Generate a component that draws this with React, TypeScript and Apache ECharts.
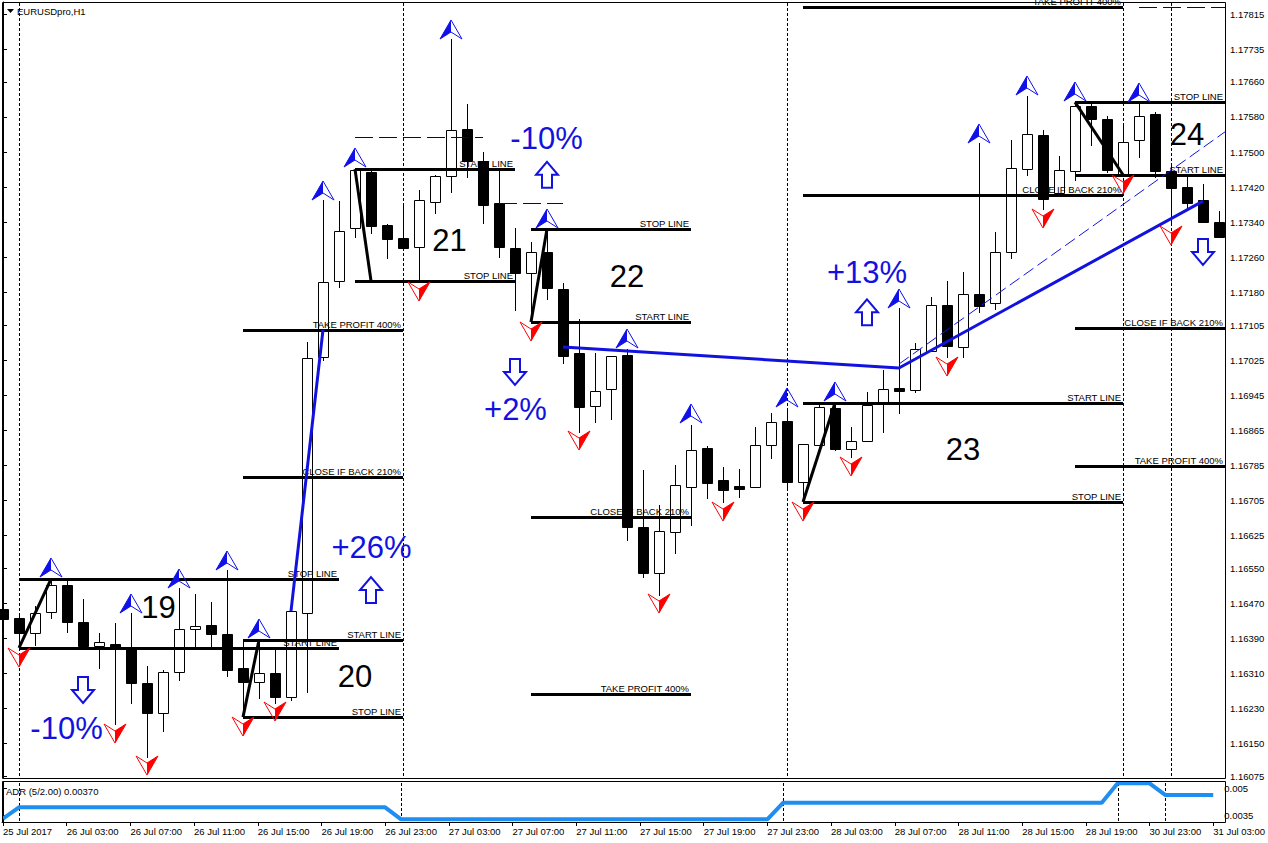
import React, { useEffect, useRef } from "react";
import * as echarts from "echarts";

// ---------- data ----------
const tickBars = [0, 4, 8, 12, 16, 20, 24, 28, 32, 36, 40, 44, 48, 52, 56, 60, 64, 68, 72, 76];
const timeLabels = [
  "25 Jul 2017", "26 Jul 03:00", "26 Jul 07:00", "26 Jul 11:00", "26 Jul 15:00",
  "26 Jul 19:00", "26 Jul 23:00", "27 Jul 03:00", "27 Jul 07:00", "27 Jul 11:00",
  "27 Jul 15:00", "27 Jul 19:00", "27 Jul 23:00", "28 Jul 03:00", "28 Jul 07:00",
  "28 Jul 11:00", "28 Jul 15:00", "28 Jul 19:00", "30 Jul 23:00", "31 Jul 03:00",
];
const priceTicks = [
  1.17815, 1.17735, 1.1766, 1.1758, 1.175, 1.1742, 1.1734, 1.1726, 1.1718, 1.17105,
  1.17025, 1.16945, 1.16865, 1.16785, 1.16705, 1.16625, 1.1655, 1.1647, 1.1639,
  1.1631, 1.1623, 1.1615, 1.16075,
];
const adrTicks = [0.0035, 0.005];
const adrTickLabels = ["0.0035", "0.005"];
const separatorBars = [1, 25, 49, 70, 73];

// open, close, low, high
const candles = [
  [1.16457, 1.16434, 1.1643, 1.16462],
  [1.16436, 1.16402, 1.16368, 1.16443],
  [1.16402, 1.16448, 1.16375, 1.16464],
  [1.1645, 1.16512, 1.16436, 1.16523],
  [1.16512, 1.16427, 1.16404, 1.16523],
  [1.16427, 1.16372, 1.1637, 1.1648],
  [1.16372, 1.16382, 1.16322, 1.16402],
  [1.16377, 1.1637, 1.16194, 1.16425],
  [1.16368, 1.16288, 1.16242, 1.16448],
  [1.16288, 1.1622, 1.16119, 1.16327],
  [1.1622, 1.16313, 1.16178, 1.16318],
  [1.16313, 1.16411, 1.16295, 1.16505],
  [1.16411, 1.16418, 1.16368, 1.16491],
  [1.1642, 1.164, 1.16368, 1.16473],
  [1.164, 1.16318, 1.16304, 1.16546],
  [1.16322, 1.1629, 1.1621, 1.16386],
  [1.1629, 1.16311, 1.16254, 1.16386],
  [1.16311, 1.16256, 1.16242, 1.16366],
  [1.16256, 1.16452, 1.16249, 1.16466],
  [1.16448, 1.1703, 1.16267, 1.17066],
  [1.17032, 1.17203, 1.17025, 1.17391],
  [1.17206, 1.1732, 1.17192, 1.17388],
  [1.17327, 1.17459, 1.17306, 1.17461],
  [1.17454, 1.17331, 1.17315, 1.17459],
  [1.17333, 1.17301, 1.17258, 1.17336],
  [1.17304, 1.17281, 1.17276, 1.17377],
  [1.17283, 1.17391, 1.17203, 1.17413],
  [1.17386, 1.17445, 1.17361, 1.17448],
  [1.17445, 1.1755, 1.17409, 1.17758],
  [1.17553, 1.1748, 1.17443, 1.1761],
  [1.1748, 1.17379, 1.17338, 1.175],
  [1.17384, 1.17283, 1.1726, 1.17459],
  [1.17281, 1.17224, 1.17139, 1.17327],
  [1.17224, 1.17272, 1.17112, 1.17295],
  [1.17272, 1.1719, 1.17165, 1.17324],
  [1.17187, 1.17034, 1.17018, 1.17201],
  [1.17041, 1.16918, 1.16861, 1.17119],
  [1.1692, 1.16955, 1.16884, 1.17041],
  [1.16959, 1.17034, 1.16891, 1.17034],
  [1.17037, 1.16644, 1.16614, 1.1705],
  [1.16644, 1.16539, 1.1653, 1.16774],
  [1.16539, 1.16635, 1.16489, 1.16694],
  [1.16633, 1.1674, 1.16585, 1.16786],
  [1.16735, 1.1682, 1.16649, 1.16877],
  [1.16824, 1.16745, 1.1671, 1.16829],
  [1.16751, 1.16729, 1.16701, 1.16781],
  [1.16738, 1.16731, 1.16713, 1.16776],
  [1.16735, 1.16831, 1.16735, 1.16872],
  [1.16831, 1.16884, 1.16802, 1.16904],
  [1.16886, 1.16747, 1.16729, 1.16916],
  [1.16747, 1.16834, 1.16701, 1.16834],
  [1.16831, 1.16918, 1.16831, 1.16923],
  [1.16916, 1.16822, 1.1682, 1.16927],
  [1.16822, 1.1684, 1.16804, 1.16872],
  [1.1684, 1.16923, 1.1684, 1.16952],
  [1.16925, 1.16959, 1.16861, 1.17002],
  [1.16961, 1.16955, 1.16904, 1.17144],
  [1.16957, 1.1705, 1.16952, 1.17064],
  [1.17046, 1.17151, 1.17046, 1.17169],
  [1.17151, 1.17057, 1.17032, 1.17206],
  [1.17055, 1.17176, 1.17032, 1.17226],
  [1.17176, 1.17149, 1.17135, 1.17521],
  [1.17155, 1.17272, 1.17142, 1.17317],
  [1.17272, 1.17464, 1.17258, 1.17527],
  [1.17461, 1.17541, 1.17448, 1.17628],
  [1.17539, 1.17393, 1.1737, 1.1755],
  [1.17407, 1.17459, 1.174, 1.17491],
  [1.17457, 1.17605, 1.17436, 1.17612],
  [1.17605, 1.17575, 1.17516, 1.17614],
  [1.17575, 1.17459, 1.17454, 1.17582],
  [1.17448, 1.17523, 1.17448, 1.17566],
  [1.17527, 1.17582, 1.17489, 1.1761],
  [1.17587, 1.17457, 1.17443, 1.17591],
  [1.17457, 1.17418, 1.17333, 1.1747],
  [1.1742, 1.17384, 1.17372, 1.17445],
  [1.17391, 1.1734, 1.1734, 1.17427],
  [1.1734, 1.17306, 1.17306, 1.17365],
];

const adrValues = [
  0.0033,
  0.00393, 0.00393, 0.00393, 0.00393, 0.00393, 0.00393, 0.00393, 0.00393,
  0.00393, 0.00393, 0.00393, 0.00393, 0.00393, 0.00393, 0.00393, 0.00393,
  0.00393, 0.00393, 0.00393, 0.00393, 0.00393, 0.00393, 0.00393, 0.00393,
  0.00326, 0.00326, 0.00326, 0.00326, 0.00326, 0.00326, 0.00326, 0.00326,
  0.00326, 0.00326, 0.00326, 0.00326, 0.00326, 0.00326, 0.00326, 0.00326,
  0.00326, 0.00326, 0.00326, 0.00326, 0.00326, 0.00326, 0.00326, 0.00326,
  0.00419, 0.00419, 0.00419, 0.00419, 0.00419, 0.00419, 0.00419, 0.00419,
  0.00419, 0.00419, 0.00419, 0.00419, 0.00419, 0.00419, 0.00419, 0.00419,
  0.00419, 0.00419, 0.00419, 0.00419, 0.00419,
  0.00528, 0.00528, 0.00528,
  0.00462, 0.00462, 0.00462, 0.00462,
];

// level lines: start bar, end bar, price
const levelRows = [
  [1, 21, 1.16525], [1, 21, 1.16368],
  [15, 25, 1.16386], [15, 25, 1.1621], [15, 25, 1.17094], [15, 25, 1.16758],
  [22, 32, 1.17461], [22, 32, 1.17206],
  [33, 43, 1.17324], [33, 43, 1.17112], [33, 43, 1.16667], [33, 43, 1.16263],
  [50, 70, 1.16927], [50, 70, 1.16701], [50, 70, 1.17402], [50, 70, 1.17831],
  [67, 76.375, 1.17614], [67, 76.375, 1.17448], [67, 76.375, 1.17099], [67, 76.375, 1.16783],
];
const levelLabels = [
  "STOP LINE", "START LINE",
  "START LINE", "STOP LINE", "TAKE PROFIT 400%", "CLOSE IF BACK 210%",
  "START LINE", "STOP LINE",
  "STOP LINE", "START LINE", "CLOSE IF BACK 210%", "TAKE PROFIT 400%",
  "START LINE", "STOP LINE", "CLOSE IF BACK 210%", "TAKE PROFIT 400%",
  "STOP LINE", "START LINE", "CLOSE IF BACK 210%", "TAKE PROFIT 400%",
];

// trend lines: bar1, price1, bar2, price2
const trendRows = [
  [1, 1.16368, 3, 1.16525],
  [15, 1.1621, 16, 1.16386],
  [22, 1.17461, 23, 1.17206],
  [33, 1.17112, 34, 1.17324],
  [50, 1.16701, 52, 1.16927],
  [67, 1.17614, 70, 1.17448],
];

// dashed navy levels: start bar, end bar, price
const dashedRows = [
  [22, 30, 1.17535],
  [31, 35, 1.17384],
  [71, 76.375, 1.17831],
];

const blueLineA = [[18, 1.16452], [20, 1.17094]];
const blueLineB = [[35, 1.17055], [56, 1.17007], [75, 1.17388]];
const blueDashed = [[56, 1.17016], [76.375, 1.17546]];

const upArrowRows = [
  [3, 1.1653], [8, 1.16448], [11, 1.16505], [14, 1.16546], [16, 1.16391],
  [20, 1.17391], [22, 1.17466], [28, 1.17758], [34, 1.17327], [39, 1.17053],
  [43, 1.16881], [49, 1.16918], [52, 1.16932], [56, 1.17144], [61, 1.17521],
  [64, 1.1763], [67, 1.17617], [71, 1.17614],
];
const downArrowRows = [
  [1, 1.16368], [7, 1.16194], [9, 1.16121], [15, 1.1621], [17, 1.16245],
  [26, 1.17203], [33, 1.17112], [36, 1.16863], [41, 1.16491], [45, 1.16701],
  [50, 1.16701], [53, 1.16804], [59, 1.17032], [65, 1.1737], [70, 1.17448],
  [73, 1.17331],
];

const setupNumberBars = [9.72, 22.0, 27.9, 39.0, 60.0, 74.0];
const setupNumberPrices = [1.1646, 1.16302, 1.17299, 1.17215, 1.1682, 1.17539];
const setupNumberTexts = ["19", "20", "21", "22", "23", "24"];

const percentBars = [3.97, 23.03, 33.97, 32.03, 54.0];
const percentPrices = [1.16183, 1.16597, 1.17531, 1.16913, 1.17226];
const percentTexts = ["-10%", "+26%", "-10%", "+2%", "+13%"];

const hollowArrowBars = [5, 23, 34, 32, 54, 75];
const hollowArrowPrices = [1.16272, 1.165, 1.17448, 1.16998, 1.17134, 1.17272];
const hollowArrowDirs = [-1, 1, 1, -1, 1, -1];

// ---------- layout constants ----------
const X_MIN = -0.0625;
const X_MAX = 76.375;
const P_MIN = 1.160711;
const P_MAX = 1.178424;
const ADR_MIN = 0.003107;
const ADR_MAX = 0.005354;
const BLUE = "#1212e0";
const FONT = "Liberation Sans";

const snap = (v: number) => Math.round(v) + 0.5;

function buildOption() {
  const sepRender = (params: any, api: any) => {
    const p = api.coord([api.value(0), api.value(1)]);
    const cs = params.coordSys;
    const x = snap(p[0]);
    return {
      type: "line",
      shape: { x1: x, y1: cs.y + 1, x2: x, y2: cs.y + cs.height },
      style: { stroke: "#000", lineWidth: 1, lineDash: [3, 2] },
    };
  };

  return {
    animation: false,
    backgroundColor: "#fff",
    textStyle: { fontFamily: FONT },
    grid: [
      { left: 2, top: 2, width: 1223, height: 776 },
      { left: 2, top: 782, width: 1223, height: 40 },
    ],
    xAxis: [
      { type: "value", gridIndex: 0, min: X_MIN, max: X_MAX, show: false },
      {
        type: "value",
        gridIndex: 1,
        min: X_MIN,
        max: X_MAX,
        position: "bottom",
        axisLine: { show: true, onZero: false, lineStyle: { color: "#000", width: 1 } },
        axisTick: { show: true, customValues: tickBars, length: 4, lineStyle: { color: "#000" } },
        axisLabel: {
          show: true,
          customValues: tickBars,
          formatter: (v: number) => timeLabels[tickBars.indexOf(Math.round(v))] || "",
          align: "left",
          margin: 4,
          fontSize: 9.5,
          fontFamily: FONT,
          color: "#000",
        },
        splitLine: { show: false },
      },
    ],
    yAxis: [
      {
        type: "value",
        gridIndex: 0,
        min: P_MIN,
        max: P_MAX,
        position: "right",
        axisLine: { show: true, lineStyle: { color: "#000", width: 1 } },
        axisTick: { show: true, customValues: priceTicks, length: 4, lineStyle: { color: "#000" } },
        axisLabel: {
          show: true,
          customValues: priceTicks,
          formatter: (v: number) => v.toFixed(5),
          margin: 5,
          fontSize: 9.5,
          fontFamily: FONT,
          color: "#000",
        },
        splitLine: { show: false },
      },
      {
        type: "value",
        gridIndex: 1,
        min: ADR_MIN,
        max: ADR_MAX,
        position: "right",
        axisLine: { show: true, lineStyle: { color: "#000", width: 1 } },
        axisTick: { show: true, customValues: adrTicks, length: 4, lineStyle: { color: "#000" } },
        axisLabel: {
          show: true,
          customValues: adrTicks,
          formatter: (v: number) => {
            const k = adrTicks.findIndex((t) => Math.abs(t - v) < 1e-7);
            return k >= 0 ? adrTickLabels[k] : "";
          },
          margin: 5,
          fontSize: 9.5,
          fontFamily: FONT,
          color: "#000",
        },
        splitLine: { show: false },
      },
    ],
    graphic: [
      {
        type: "rect",
        z: 50,
        silent: true,
        shape: { x: 2.5, y: 2.5, width: 1223, height: 776 },
        style: { fill: "none", stroke: "#000", lineWidth: 1 },
      },
      {
        type: "rect",
        z: 50,
        silent: true,
        shape: { x: 2.5, y: 781.5, width: 1223, height: 41 },
        style: { fill: "none", stroke: "#000", lineWidth: 1 },
      },
      {
        type: "polygon",
        z: 50,
        shape: { points: [[7, 9], [14, 9], [10.5, 13]] },
        style: { fill: "#000" },
      },
      {
        type: "text",
        z: 50,
        x: 17,
        y: 11,
        style: { text: "EURUSDpro,H1", fontSize: 9.5, fontFamily: FONT, fill: "#000", verticalAlign: "middle" },
      },
      {
        type: "text",
        z: 50,
        x: 6,
        y: 791,
        style: { text: "ADR (5/2.00) 0.00370", fontSize: 9.5, fontFamily: FONT, fill: "#000", verticalAlign: "middle" },
      },
    ],
    series: [
      {
        name: "separators",
        type: "custom",
        xAxisIndex: 0,
        yAxisIndex: 0,
        z: 1,
        silent: true,
        data: separatorBars.map((b) => [b, P_MIN]),
        encode: { x: 0, y: 1 },
        renderItem: sepRender,
      },
      {
        name: "separators-adr",
        type: "custom",
        xAxisIndex: 1,
        yAxisIndex: 1,
        z: 1,
        silent: true,
        data: separatorBars.map((b) => [b, ADR_MIN]),
        encode: { x: 0, y: 1 },
        renderItem: sepRender,
      },
      {
        name: "EURUSDpro,H1",
        type: "custom",
        xAxisIndex: 0,
        yAxisIndex: 0,
        z: 2,
        silent: true,
        data: candles.map((r, i) => [i, r[0], r[1], r[2], r[3]]),
        encode: { x: 0, y: [1, 2, 3, 4] },
        renderItem: (params: any, api: any) => {
          const i = api.value(0);
          const o = api.value(1);
          const c = api.value(2);
          const po = api.coord([i, o]);
          const pc = api.coord([i, c]);
          const pl = api.coord([i, api.value(3)]);
          const ph = api.coord([i, api.value(4)]);
          const cx = snap(po[0]);
          const yTop = snap(Math.min(po[1], pc[1]));
          const yBot = snap(Math.max(po[1], pc[1]));
          const bull = c > o;
          return {
            type: "group",
            children: [
              {
                type: "line",
                shape: { x1: cx, y1: Math.round(ph[1]), x2: cx, y2: Math.round(pl[1]) + 1 },
                style: { stroke: "#000", lineWidth: 1 },
              },
              {
                type: "rect",
                shape: { x: cx - 5, y: yTop, width: 10, height: Math.max(1, yBot - yTop) },
                style: { fill: bull ? "#fff" : "#000", stroke: "#000", lineWidth: 1 },
              },
            ],
          };
        },
      },
      {
        name: "levels",
        type: "custom",
        xAxisIndex: 0,
        yAxisIndex: 0,
        z: 3,
        silent: true,
        data: levelRows,
        encode: { x: [0, 1], y: 2 },
        renderItem: (params: any, api: any) => {
          const s = api.coord([api.value(0), api.value(2)]);
          const e = api.coord([api.value(1), api.value(2)]);
          const y = snap(s[1]);
          const x2 = Math.round(e[0]);
          return {
            type: "group",
            children: [
              {
                type: "line",
                shape: { x1: Math.round(s[0]), y1: y, x2: x2, y2: y },
                style: { stroke: "#000", lineWidth: 3 },
              },
              {
                type: "text",
                x: x2 - 2,
                y: y - 1,
                style: {
                  text: levelLabels[params.dataIndex],
                  fontSize: 9.5,
                  fontFamily: FONT,
                  fill: "#000",
                  align: "right",
                  verticalAlign: "bottom",
                },
              },
            ],
          };
        },
      },
      {
        name: "trend",
        type: "custom",
        xAxisIndex: 0,
        yAxisIndex: 0,
        z: 3,
        silent: true,
        data: trendRows,
        encode: { x: [0, 2], y: [1, 3] },
        renderItem: (params: any, api: any) => {
          const a = api.coord([api.value(0), api.value(1)]);
          const b = api.coord([api.value(2), api.value(3)]);
          return {
            type: "line",
            shape: { x1: a[0], y1: a[1], x2: b[0], y2: b[1] },
            style: { stroke: "#000", lineWidth: 3 },
          };
        },
      },
      {
        name: "dashed",
        type: "custom",
        xAxisIndex: 0,
        yAxisIndex: 0,
        z: 3,
        silent: true,
        data: dashedRows,
        encode: { x: [0, 1], y: 2 },
        renderItem: (params: any, api: any) => {
          const s = api.coord([api.value(0), api.value(2)]);
          const e = api.coord([api.value(1), api.value(2)]);
          const y = snap(s[1]);
          return {
            type: "line",
            shape: { x1: s[0], y1: y, x2: e[0], y2: y },
            style: { stroke: "#00008b", lineWidth: 1, lineDash: [18, 6] },
          };
        },
      },
      {
        name: "move A",
        type: "line",
        xAxisIndex: 0,
        yAxisIndex: 0,
        z: 4,
        silent: true,
        showSymbol: false,
        symbol: "none",
        data: blueLineA,
        lineStyle: { color: BLUE, width: 3 },
      },
      {
        name: "move B",
        type: "line",
        xAxisIndex: 0,
        yAxisIndex: 0,
        z: 4,
        silent: true,
        showSymbol: false,
        symbol: "none",
        data: blueLineB,
        lineStyle: { color: BLUE, width: 3 },
      },
      {
        name: "channel",
        type: "line",
        xAxisIndex: 0,
        yAxisIndex: 0,
        z: 4,
        silent: true,
        showSymbol: false,
        symbol: "none",
        data: blueDashed,
        lineStyle: { color: BLUE, width: 1, type: [12, 5] },
      },
      {
        name: "up fractals",
        type: "custom",
        xAxisIndex: 0,
        yAxisIndex: 0,
        z: 5,
        silent: true,
        data: upArrowRows,
        encode: { x: 0, y: 1 },
        renderItem: (params: any, api: any) => {
          const p = api.coord([api.value(0), api.value(1)]);
          const cx = Math.round(p[0]);
          const y = Math.round(p[1]);
          return {
            type: "group",
            children: [
              {
                type: "polygon",
                shape: { points: [[cx, y - 19], [cx - 11, y], [cx, y - 7]] },
                style: { fill: "#1010e8" },
              },
              {
                type: "polygon",
                shape: { points: [[cx, y - 19], [cx + 11, y], [cx, y - 7], [cx - 11, y]] },
                style: { fill: "none", stroke: "#1010e8", lineWidth: 1 },
              },
            ],
          };
        },
      },
      {
        name: "down fractals",
        type: "custom",
        xAxisIndex: 0,
        yAxisIndex: 0,
        z: 5,
        silent: true,
        data: downArrowRows,
        encode: { x: 0, y: 1 },
        renderItem: (params: any, api: any) => {
          const p = api.coord([api.value(0), api.value(1)]);
          const cx = Math.round(p[0]);
          const y = Math.round(p[1]);
          return {
            type: "group",
            children: [
              {
                type: "polygon",
                shape: { points: [[cx, y + 19], [cx + 11, y], [cx, y + 7]] },
                style: { fill: "#ff0000" },
              },
              {
                type: "polygon",
                shape: { points: [[cx, y + 19], [cx - 11, y], [cx, y + 7], [cx + 11, y]] },
                style: { fill: "none", stroke: "#ff0000", lineWidth: 1 },
              },
            ],
          };
        },
      },
      {
        name: "direction arrows",
        type: "custom",
        xAxisIndex: 0,
        yAxisIndex: 0,
        z: 5,
        silent: true,
        data: hollowArrowBars.map((b, i) => [b, hollowArrowPrices[i], hollowArrowDirs[i]]),
        encode: { x: 0, y: 1 },
        renderItem: (params: any, api: any) => {
          const p = api.coord([api.value(0), api.value(1)]);
          const d = api.value(2);
          const cx = p[0];
          const cy = p[1];
          const rel = [[0, -13], [11, 0], [5, 0], [5, 13], [-5, 13], [-5, 0], [-11, 0]];
          return {
            type: "polygon",
            shape: { points: rel.map((q) => [cx + q[0], cy + q[1] * d]) },
            style: { fill: "#fff", stroke: BLUE, lineWidth: 2 },
          };
        },
      },
      {
        name: "setup numbers",
        type: "custom",
        xAxisIndex: 0,
        yAxisIndex: 0,
        z: 6,
        silent: true,
        data: setupNumberBars.map((b, i) => [b, setupNumberPrices[i]]),
        encode: { x: 0, y: 1 },
        renderItem: (params: any, api: any) => {
          const p = api.coord([api.value(0), api.value(1)]);
          return {
            type: "text",
            x: p[0],
            y: p[1],
            style: {
              text: setupNumberTexts[params.dataIndex],
              fontSize: 31,
              fontFamily: FONT,
              fill: "#000",
              align: "center",
              verticalAlign: "middle",
            },
          };
        },
      },
      {
        name: "percent labels",
        type: "custom",
        xAxisIndex: 0,
        yAxisIndex: 0,
        z: 6,
        silent: true,
        data: percentBars.map((b, i) => [b, percentPrices[i]]),
        encode: { x: 0, y: 1 },
        renderItem: (params: any, api: any) => {
          const p = api.coord([api.value(0), api.value(1)]);
          return {
            type: "text",
            x: p[0],
            y: p[1],
            style: {
              text: percentTexts[params.dataIndex],
              fontSize: 31,
              fontFamily: FONT,
              fill: BLUE,
              align: "center",
              verticalAlign: "middle",
            },
          };
        },
      },
      {
        name: "ADR",
        type: "line",
        xAxisIndex: 1,
        yAxisIndex: 1,
        z: 3,
        silent: true,
        showSymbol: false,
        symbol: "none",
        data: adrValues.map((v, i) => [i, v]),
        lineStyle: { color: "#1e8ff0", width: 4 },
      },
    ],
  };
}

export default function App() {
  const ref = useRef<HTMLDivElement>(null);
  useEffect(() => {
    if (!ref.current) return;
    const chart = echarts.init(ref.current, null, { renderer: "svg" });
    chart.setOption(buildOption() as any);
    return () => chart.dispose();
  }, []);
  return (
    <div
      ref={ref}
      style={{ position: "absolute", left: 0, top: 0, width: 1268, height: 843, background: "#fff" }}
    />
  );
}
